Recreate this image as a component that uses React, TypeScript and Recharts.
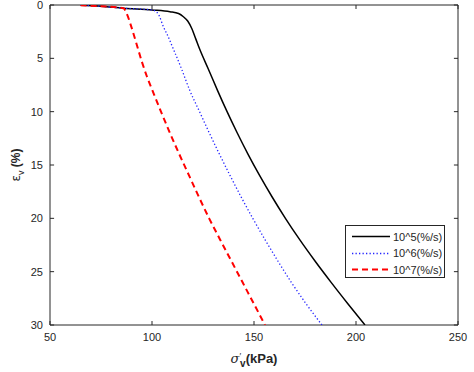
import { LineChart, Line, XAxis, YAxis, ReferenceArea, ReferenceLine } from 'recharts';

// strain rate curves (sigma'_v in kPa, eps_v in %)
const rate5Sigma = [65, 75, 86, 100, 108.8, 113, 115.4, 117.5, 119.5, 121.5, 123.5, 127.6, 132.1, 136.8, 141.8, 147.1, 152.8, 158.9, 165.4, 172.4, 179.9, 187.8, 196, 204.4];
const rate5Eps = [0.02, 0.12, 0.3, 0.47, 0.63, 0.8, 1.1, 1.5, 2.2, 3.2, 4.2, 6, 8, 10, 12, 14, 16, 18, 20, 22, 24, 26, 28, 30];

const rate6Sigma = [65, 75, 86, 99.8, 101.5, 103.5, 105.5, 108, 110.2, 114.5, 118.5, 123.3, 128.1, 133.1, 138.3, 143.7, 149.4, 155.4, 161.7, 168.3, 175.5, 183.3];
const rate6Eps = [0.02, 0.12, 0.3, 0.47, 0.55, 1.0, 2.0, 3.0, 4.0, 6, 8, 10, 12, 14, 16, 18, 20, 22, 24, 26, 28, 30];

const rate7Sigma = [65, 75, 86, 87.6, 89.8, 92.5, 95, 97.5, 100.2, 104.4, 108.8, 113.4, 118.2, 123, 128, 133.4, 138.9, 144.4, 149.9, 155.4];
const rate7Eps = [0.02, 0.12, 0.3, 0.8, 2.0, 3.7, 5.3, 6.7, 8, 10, 12, 14, 16, 18, 20, 22, 24, 26, 28, 30];

const xTicks = [50, 100, 150, 200, 250];
const yTicks = [0, 5, 10, 15, 20, 25, 30];
const legendLabels = ['10^5(%/s)', '10^6(%/s)', '10^7(%/s)'];

const zip = (s: number[], e: number[]) => s.map((v, i) => ({ s: v, e: e[i] }));

const AXIS = '#262626';
const FONT = '"Liberation Sans", Arial, sans-serif';

const series = [
  { name: legendLabels[0], data: zip(rate5Sigma, rate5Eps), color: '#000000', width: 1.5, dash: undefined },
  { name: legendLabels[1], data: zip(rate6Sigma, rate6Eps), color: '#2323ff', width: 1.3, dash: '1.3 2.2' },
  { name: legendLabels[2], data: zip(rate7Sigma, rate7Eps), color: '#ff0000', width: 2, dash: '6 4' },
];

const tickStyle = { fill: AXIS, fontSize: 11, fontFamily: FONT };

// inward tick marks, MATLAB style (length in data units ~4px)
const X_TICK_LEN = 0.375;
const Y_TICK_LEN = 2;

export default function App() {
  return (
    <div style={{ position: 'absolute', left: 0, top: 0, width: 474, height: 372, background: '#fff' }}>
      <LineChart width={474} height={372} margin={{ top: 5, right: 16, left: 0, bottom: 0 }}>
        <XAxis
          type="number"
          dataKey="s"
          domain={[50, 250]}
          ticks={xTicks}
          interval={0}
          allowDataOverflow
          height={47}
          axisLine={false}
          tickLine={false}
          tickSize={0}
          tickMargin={8}
          tick={tickStyle}
          label={{
            content: () => (
              <text x={254} y={363} textAnchor="middle" fill={AXIS} fontFamily={FONT} fontSize={13}>
                <tspan fontStyle="italic" fontFamily="'DejaVu Serif', serif">σ</tspan>
                <tspan fontSize={9} dy={-4}>′</tspan>
                <tspan fontSize={10} fontWeight="bold" dy={8} dx={-1}>v</tspan>
                <tspan fontWeight="bold" dy={-4}>(kPa)</tspan>
              </text>
            ),
          }}
        />
        <YAxis
          type="number"
          dataKey="e"
          domain={[0, 30]}
          ticks={yTicks}
          interval={0}
          reversed
          allowDataOverflow
          width={50}
          axisLine={false}
          tickLine={false}
          tickSize={0}
          tickMargin={7}
          tick={tickStyle}
          label={{
            content: () => (
              <text
                x={20}
                y={165}
                textAnchor="middle"
                transform="rotate(-90 20 165)"
                fill={AXIS}
                fontFamily={FONT}
                fontSize={12}
              >
                <tspan fontFamily="'DejaVu Sans', sans-serif">ε</tspan>
                <tspan fontSize={9} dy={4}>v</tspan>
                <tspan fontWeight="bold" dy={-4}> (%)</tspan>
              </text>
            ),
          }}
        />
        {series.map((s) => (
          <Line
            key={s.name}
            data={s.data}
            dataKey="e"
            name={s.name}
            type="monotone"
            stroke={s.color}
            strokeWidth={s.width}
            strokeDasharray={s.dash}
            dot={false}
            activeDot={false}
            isAnimationActive={false}
          />
        ))}
        {xTicks.map((t) => (
          <ReferenceLine key={`xb${t}`} segment={[{ x: t, y: 30 }, { x: t, y: 30 - X_TICK_LEN }]} stroke={AXIS} ifOverflow="visible" />
        ))}
        {xTicks.map((t) => (
          <ReferenceLine key={`xt${t}`} segment={[{ x: t, y: 0 }, { x: t, y: X_TICK_LEN }]} stroke={AXIS} ifOverflow="visible" />
        ))}
        {yTicks.map((t) => (
          <ReferenceLine key={`yl${t}`} segment={[{ x: 50, y: t }, { x: 50 + Y_TICK_LEN, y: t }]} stroke={AXIS} ifOverflow="visible" />
        ))}
        {yTicks.map((t) => (
          <ReferenceLine key={`yr${t}`} segment={[{ x: 250, y: t }, { x: 250 - Y_TICK_LEN, y: t }]} stroke={AXIS} ifOverflow="visible" />
        ))}
        <ReferenceArea x1={50} x2={250} y1={0} y2={30} fill="none" stroke={AXIS} strokeWidth={1} ifOverflow="visible" />
      </LineChart>
      <div
        style={{
          position: 'absolute',
          left: 345,
          top: 225,
          width: 100,
          height: 53,
          border: `1px solid ${AXIS}`,
          background: '#fff',
          boxSizing: 'border-box',
          fontFamily: FONT,
          fontSize: 11,
          color: AXIS,
          paddingTop: 3,
        }}
      >
        {series.map((s) => (
          <div key={s.name} style={{ display: 'flex', alignItems: 'center', height: 15, marginBottom: 1.5 }}>
            <svg width={46} height={15} style={{ flex: 'none' }}>
              <line x1={6} x2={44} y1={7.5} y2={7.5} stroke={s.color} strokeWidth={s.width} strokeDasharray={s.dash} />
            </svg>
            <span style={{ marginLeft: 1 }}>{s.name}</span>
          </div>
        ))}
      </div>
    </div>
  );
}
